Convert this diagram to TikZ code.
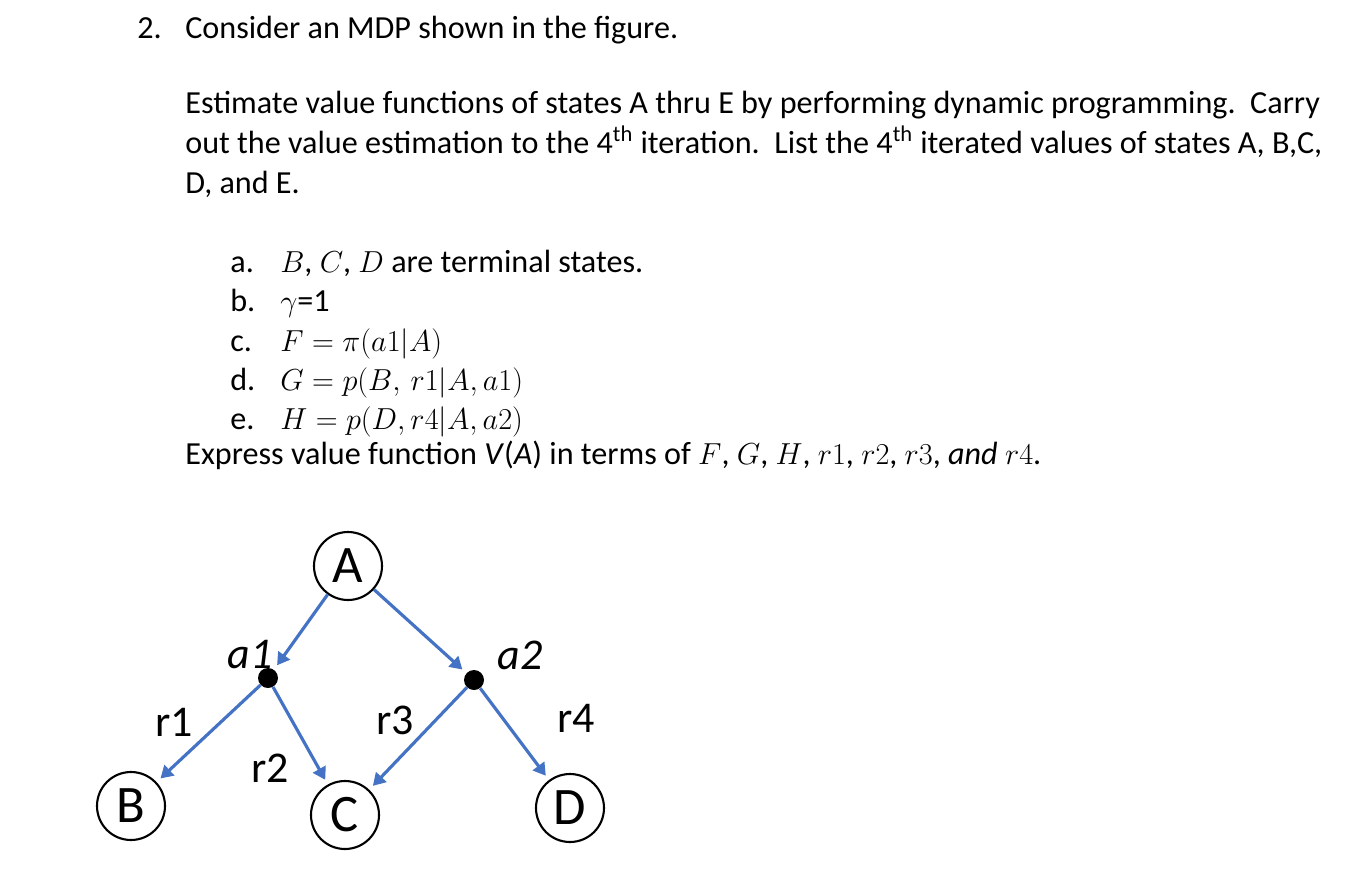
\documentclass[tikz,border=0pt]{standalone}
\usepackage{fontspec}
\setmainfont{Carlito}
\setsansfont{Carlito}
\usetikzlibrary{arrows.meta}
\begin{document}
\begin{tikzpicture}[x=0.02cm,y=-0.02cm,
  txt/.style={anchor=base west,inner sep=0pt,font=\fontsize{18.3}{21}\selectfont},
  st/.style={circle,draw,line width=1.2pt,minimum size=68*0.02cm,inner sep=0pt,font=\fontsize{30}{32}\selectfont},
  act/.style={circle,fill=black,minimum size=20*0.02cm,inner sep=0pt},
  lab/.style={font=\fontsize{25}{27}\selectfont},
  arr/.style={draw={rgb,255:red,68;green,114;blue,196},line width=1.8pt,-{Triangle[length=7pt,width=8pt]},shorten >=3pt}]
\useasboundingbox (0,0) rectangle (1360,876);
\node[txt] (n2) at (137,38) {2.};
\node[txt] (t1) at (185,38) {Consider an MDP shown in the figure.};
\node[txt] (t2) at (185,113) {Estimate value functions of states A thru E by performing dynamic programming.\ \ Carry};
\node[txt] (t3) at (185,153) {out the value estimation to the 4\textsuperscript{th} iteration.\ \ List the 4\textsuperscript{th} iterated values of states A, B,C,};
\node[txt] (t4) at (185,193) {D, and E.};
\node[txt] (la) at (230,272) {a.};
\node[txt] (ta) at (280,272) {$B$, $C$, $D$ are terminal states.};
\node[txt] (lb) at (230,311) {b.};
\node[txt] (tb) at (280,311) {$\gamma$=1};
\node[txt] (lc) at (230,351) {c.};
\node[txt] (tc) at (280,351) {$F=\pi(a1|A)$};
\node[txt] (ld) at (230,390) {d.};
\node[txt] (td) at (280,390) {$G=p(B,\,r1|A,a1)$};
\node[txt] (le) at (230,429) {e.};
\node[txt] (te) at (280,429) {$H=p(D,r4|A,a2)$};
\node[txt] (t5) at (185,464) {Express value function \textit{V}(\textit{A}) in terms of $F$, $G$, $H$, $r1$, $r2$, $r3$, \textit{and} $r4$.};

\node[st] (A) at (348,566) {A};
\node[st] (B) at (131,806) {B};
\node[st] (C) at (345,815) {C};
\node[st] (D) at (570,808) {D};
\node[act] (a1) at (268,678) {};
\node[act] (a2) at (474,680) {};
\node[lab] (la1) at (250,655) {\itshape a1};
\node[lab] (la2) at (520,655) {\itshape a2};
\node[lab] (r1) at (174,722) {r1};
\node[lab] (r2) at (270,768) {r2};
\node[lab] (r3) at (395,720) {r3};
\node[lab] (r4) at (576,718) {r4};
\draw[arr] (A) -- (a1);
\draw[arr] (A) -- (a2);
\draw[arr] (a1) -- (B);
\draw[arr] (a1) -- (C);
\draw[arr] (a2) -- (C);
\draw[arr] (a2) -- (D);
\end{tikzpicture}
\end{document}
